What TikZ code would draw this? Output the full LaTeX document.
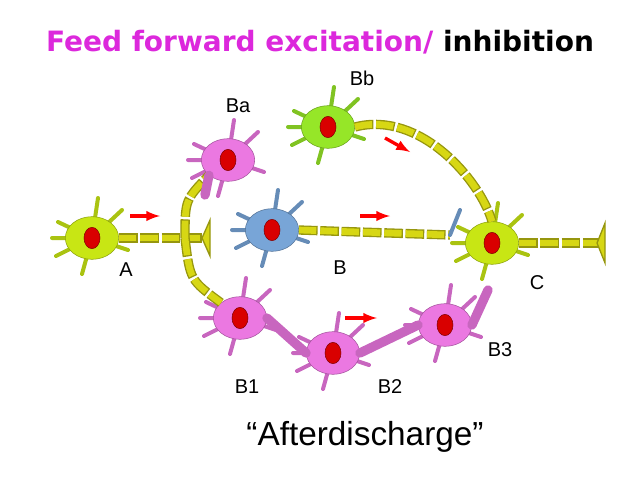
\documentclass[tikz,border=0pt]{standalone}
\usepackage{fontspec}
\setmainfont{Liberation Sans}
\newfontfamily\titlefont{DejaVu Sans}
\usetikzlibrary{positioning,shapes.geometric}
\definecolor{yellowgreen}{RGB}{200,230,20}
\definecolor{pinkcell}{RGB}{235,120,225}
\definecolor{bluecell}{RGB}{120,165,215}
\definecolor{lightgreen}{RGB}{150,230,40}
\definecolor{axonyellow}{RGB}{215,215,20}
\definecolor{titlepink}{RGB}{220,40,220}
\newcommand{\cellbody}[4]{% name, x, y, colour
  \begin{scope}[shift={(#2,#3)}]
    \draw[dendrite=#4] (0,0) -- (-36,18) (0,0) -- (-34,-16) (0,0) -- (30,-28)
      (0,0) -- (36,12) (0,0) -- (6,-40) (0,0) -- (-10,36) (0,0) -- (-40,0);
    \node[soma=#4] (#1) at (0,0) {};
    \node[nucleus] at (#1) {};
  \end{scope}}
\begin{document}
\begin{tikzpicture}[x=1pt,y=-1pt,
  soma/.style={ellipse, fill=#1, draw=#1!70!black, minimum width=40, minimum height=32, inner sep=0},
  dendrite/.style={draw=#1!85!black, line width=3, line cap=round},
  nucleus/.style={ellipse, fill=red!85!black, draw=red!50!black, minimum width=12, minimum height=16, inner sep=0},
  axon/.style={draw=axonyellow!70!black, line width=7, dash pattern=on 14 off 2},
  axonfill/.style={draw=axonyellow, line width=5, dash pattern=on 13 off 3},
  signal/.style={->, draw=red, line width=2.5, >=latex},
  lbl/.style={font=\fontsize{15}{15}\selectfont}]
\useasboundingbox (0,0) rectangle (478.5,358.5);
\begin{scope}[scale=0.75]
% title
\node[font=\titlefont\bfseries\fontsize{21}{21}\selectfont] (title) at (320,42)
  {\textcolor{titlepink}{Feed forward excitation/} inhibition};
% cells
\cellbody{A}{92}{238}{yellowgreen}
\cellbody{Ba}{228}{160}{pinkcell}
\cellbody{Bb}{328}{127}{lightgreen}
\cellbody{B}{272}{230}{bluecell}
\cellbody{C}{492}{243}{yellowgreen}
\cellbody{B1}{240}{318}{pinkcell}
\cellbody{B2}{333}{353}{pinkcell}
\cellbody{B3}{445}{325}{pinkcell}
% axon ends
\coordinate (Aend) at (210,238);
\coordinate (Bend) at (450,235);
\coordinate (Cend) at (605,243);
\coordinate (fork) at (185,238);
\foreach \a/\b in {A/Aend,B/Bend,C/Cend}{
  \draw[axon] (\a.east) -- (\b);
  \draw[axonfill] (\a.east) -- (\b);}
\draw[draw=axonyellow!70!black, fill=axonyellow, line width=1] (Aend) ++(-8,0) -- ++(8,-18) -- ++(0,36) -- cycle;
\draw[draw=axonyellow!70!black, fill=axonyellow, line width=1] (Cend) ++(-8,0) -- ++(8,-20) -- ++(0,40) -- cycle;
\foreach \s in {axon,axonfill}{
  \draw[\s] (fork) .. controls (185,200) .. (Ba.south west);
  \draw[\s] (fork) .. controls (190,280) .. (B1.north west);
  \draw[\s] (Bb.east) .. controls (420,110) and (480,180) .. (C.north);}
\draw[draw=pinkcell!85!black, line width=7, line cap=round] (B1.east) -- (B2.west) (B2.east) -- (B3.west)
  (B3.east) -- (488,290) (Ba.south west) -- (205,195);
\draw[dendrite=bluecell] (Bend) -- (460,210);
% signals
\draw[signal] (130,216) -- (160,216);
\draw[signal] (360,216) -- (390,216);
\draw[signal] (385,138) -- (410,152);
\draw[signal] (345,318) -- (377,318);
% labels
\node[lbl] (lA) at (126,270) {A};
\node[lbl] (lB) at (340,268) {B};
\node[lbl] (lC) at (537,283) {C};
\node[lbl] (lBa) at (238,106) {Ba};
\node[lbl] (lBb) at (362,78) {Bb};
\node[lbl] (lB1) at (247,387) {B1};
\node[lbl] (lB2) at (390,387) {B2};
\node[lbl] (lB3) at (500,350) {B3};
\node[font=\fontsize{25}{25}\selectfont] (after) at (365,437) {“Afterdischarge”};
\end{scope}
\end{tikzpicture}
\end{document}
